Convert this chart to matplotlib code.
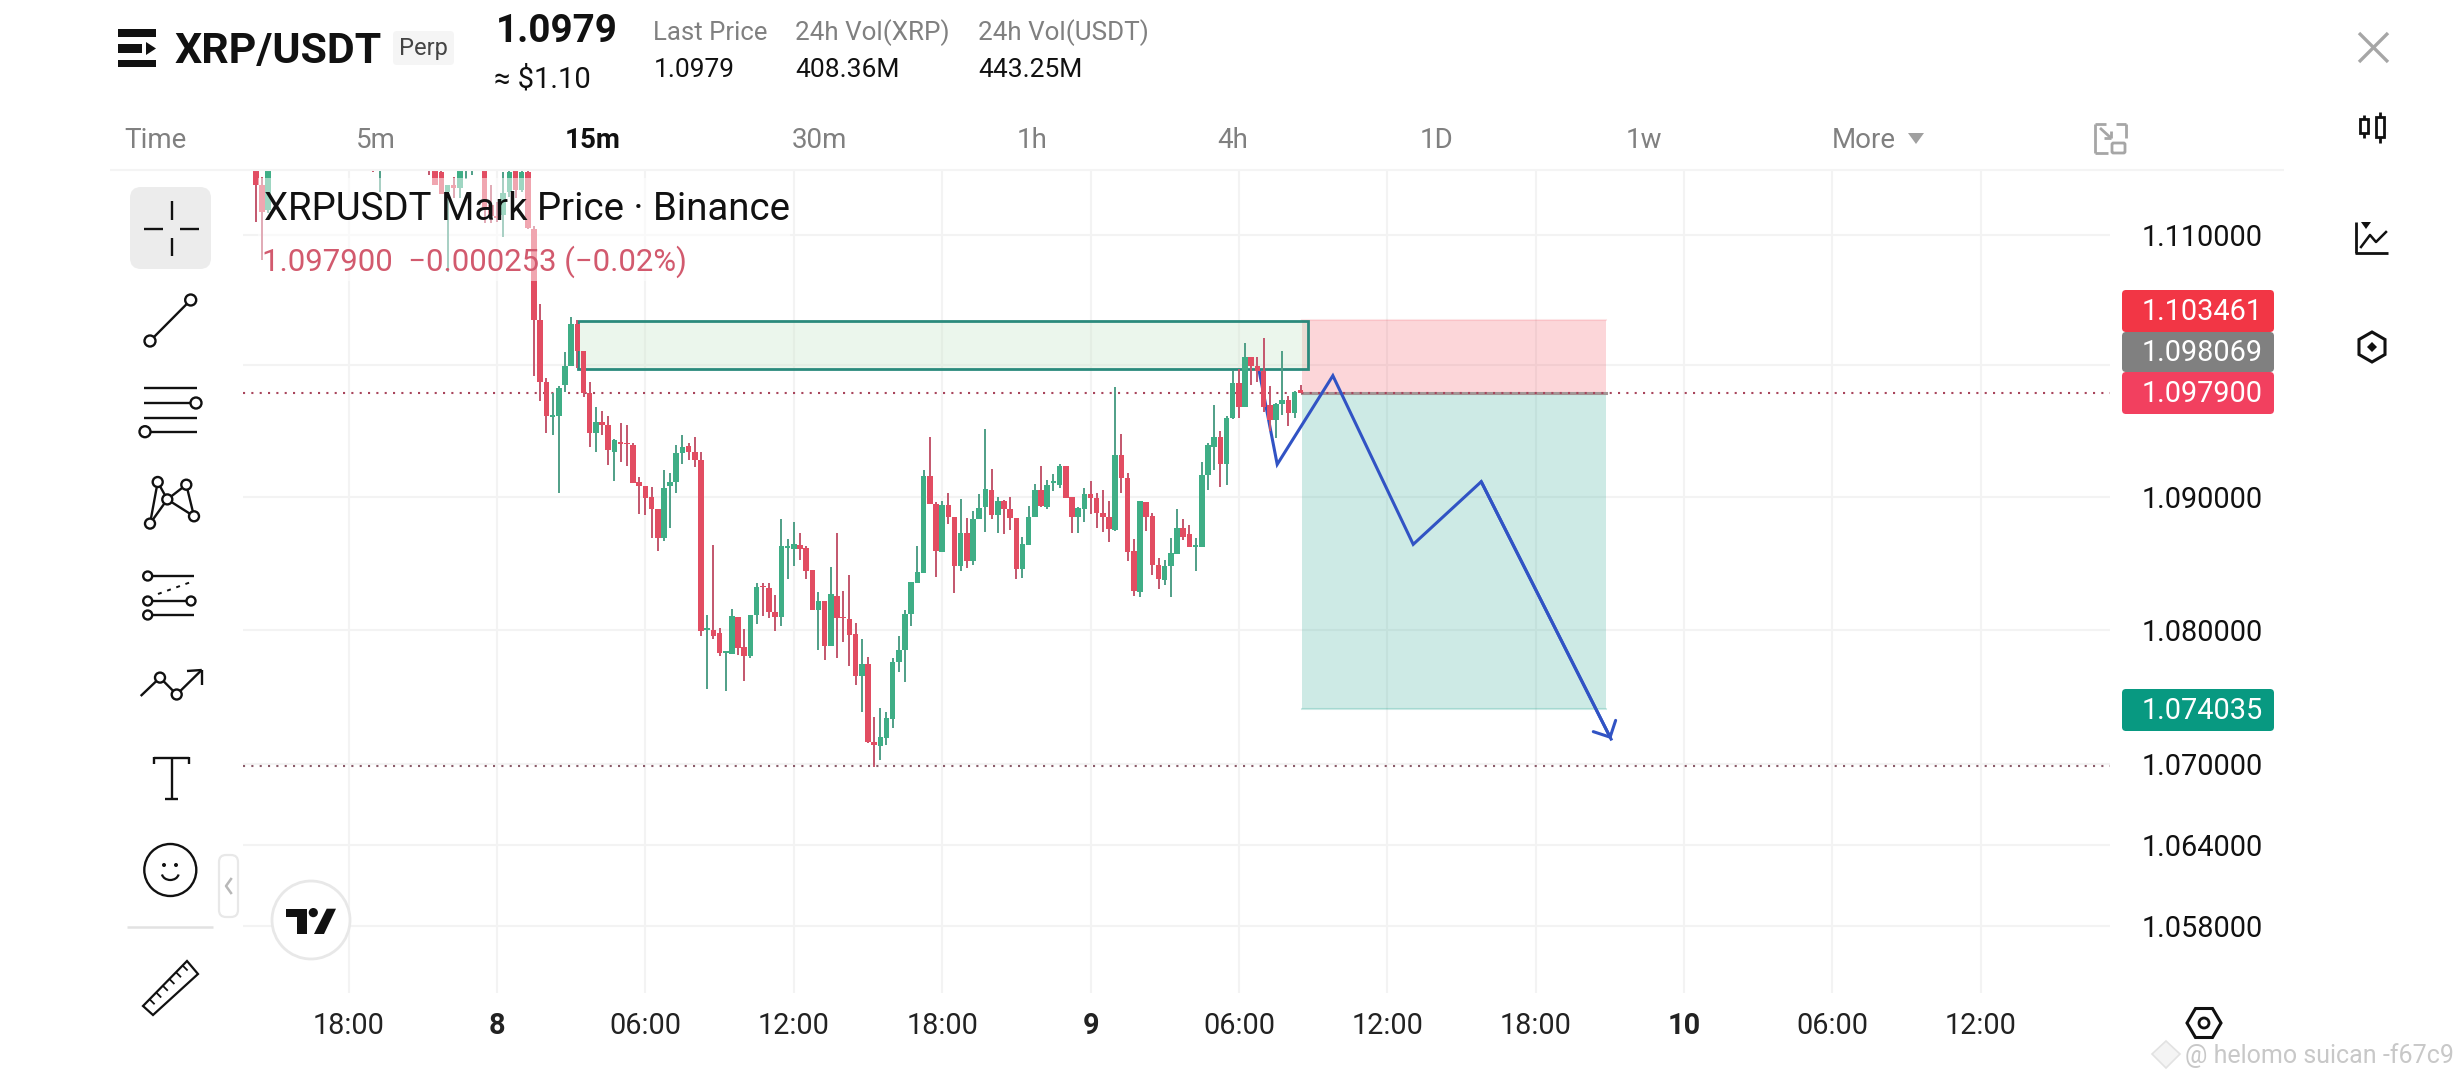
import matplotlib
matplotlib.use('Agg')
import numpy as np
from matplotlib import pyplot as plt
from matplotlib.patches import Rectangle, FancyBboxPatch, Circle, Polygon, Arc
from matplotlib.ticker import NullLocator

plt.rcParams['font.family'] = ['Roboto', 'DejaVu Sans']

# 15 minute bars, counted from 8th 00:00. Bars above the pane top are left out
bar_idx = [-39, -38, -37, -20, -19, -11, -10, -9, -8, -7, -6, -5, -4, -2, -1] + list(range(0, 131))

opens = [1.1165, 1.11385, 1.11192, 1.1185, 1.1165, 1.1185, 1.1178, 1.11488, 1.11334, 1.11385,
         1.11359, 1.1165, 1.1165, 1.1165, 1.11231,
         1.11149, 1.11154, 1.11334, 1.1165, 1.11346, 1.11488, 1.1105, 1.10344, 1.09869, 1.09606,
         1.09612, 1.09848, 1.09992, 1.10318, 1.10113, 1.09792, 1.09488, 1.09565, 1.09545, 1.09342,
         1.09414, 1.09406, 1.09393, 1.0911, 1.09085, 1.09, 1.08905, 1.08686, 1.09085, 1.0911,
         1.09334, 1.09386, 1.09342, 1.0928, 1.07998, 1.08, 1.07975, 1.07825, 1.078175, 1.08095,
         1.0787, 1.07805, 1.081125, 1.0833, 1.083125, 1.081325, 1.08095, 1.08612, 1.08605, 1.086375,
         1.086125, 1.08445, 1.0815, 1.082175, 1.0788, 1.08255, 1.08095, 1.0808, 1.079675, 1.07655,
         1.07745, 1.071625, 1.0713, 1.071875, 1.0733, 1.07755, 1.0785, 1.0812, 1.0835, 1.08425,
         1.091575, 1.08945, 1.08583, 1.089375, 1.0885, 1.0848, 1.08725, 1.085125, 1.0883, 1.0892,
         1.09055, 1.08865, 1.089675, 1.08905, 1.088425, 1.08455, 1.08638, 1.08845, 1.09055, 1.0892,
         1.09105, 1.090925, 1.092325, 1.09, 1.0885, 1.08905, 1.09025, 1.08995, 1.0888, 1.0885,
         1.0875, 1.0932, 1.09145, 1.085875, 1.0828, 1.089625, 1.08855, 1.084825, 1.08375, 1.08475,
         1.0857, 1.087625, 1.0872, 1.08622, 1.086175, 1.091675, 1.09375, 1.09455, 1.0925, 1.09595,
         1.098675, 1.0968, 1.100625, 1.099925, 1.09955, 1.09695, 1.095825, 1.09705, 1.097375, 1.096375,
         1.09815]
highs = [1.1175, 1.1145, 1.1172, 1.1195, 1.1195, 1.1195, 1.1185, 1.1155, 1.11385, 1.1145,
         1.1172, 1.1185, 1.1185, 1.1175, 1.11385,
         1.11256, 1.11488, 1.1152, 1.1175, 1.1175, 1.1155, 1.1107, 1.10473, 1.09907, 1.09792,
         1.09843, 1.101, 1.1037, 1.10344, 1.10113, 1.09869, 1.09684, 1.0965, 1.09617, 1.0944,
         1.0956, 1.09547, 1.09406, 1.09149, 1.09085, 1.09077, 1.08905, 1.09206, 1.0918, 1.09393,
         1.0947, 1.09406, 1.09457, 1.09338, 1.081125, 1.086375, 1.080125, 1.07838, 1.08155, 1.08095,
         1.08005, 1.081125, 1.0835, 1.0835, 1.0835, 1.082625, 1.0883, 1.0868, 1.088125, 1.08725,
         1.0863, 1.08445, 1.0828, 1.082175, 1.0847, 1.08725, 1.082875, 1.084125, 1.0805, 1.0793,
         1.07795, 1.0735, 1.074125, 1.073875, 1.077875, 1.07955, 1.0815, 1.08355, 1.0863, 1.09205,
         1.09455, 1.089625, 1.089675, 1.0903, 1.0885, 1.089875, 1.088375, 1.088925, 1.0902, 1.095125,
         1.092125, 1.09, 1.08975, 1.09, 1.088425, 1.08695, 1.0893, 1.09095, 1.0923, 1.09125,
         1.09175, 1.0925, 1.092325, 1.09, 1.0892, 1.090675, 1.091175, 1.090325, 1.09055, 1.089675,
         1.098375, 1.0948, 1.0918, 1.0868, 1.08968, 1.089625, 1.0888, 1.085375, 1.08525, 1.086875,
         1.08905, 1.0883, 1.087875, 1.086875, 1.092675, 1.09405, 1.09695, 1.095, 1.096125, 1.09955,
         1.09975, 1.101675, 1.100625, 1.100625, 1.102125, 1.09845, 1.097125, 1.101125, 1.097675, 1.09805,
         1.0985]
lows = [1.11102, 1.10807, 1.11167, 1.11483, 1.11334, 1.1146, 1.11385, 1.11313, 1.10717, 1.11287,
        1.11282, 1.11436, 1.11462, 1.11089, 1.11089,
        1.11102, 1.10987, 1.11295, 1.11282, 1.11334, 1.1105, 1.0992, 1.09727, 1.09488, 1.0947,
        1.09026, 1.09797, 1.09992, 1.09977, 1.09761, 1.09375, 1.09342, 1.0947, 1.09239, 1.09118,
        1.09265, 1.0923, 1.09103, 1.08872, 1.08866, 1.08686, 1.08589, 1.08666, 1.08764, 1.09026,
        1.09247, 1.09283, 1.09226, 1.0795, 1.07555, 1.0793, 1.07805, 1.075375, 1.078175, 1.078125,
        1.076125, 1.077875, 1.08045, 1.081, 1.080875, 1.079875, 1.08025, 1.0838, 1.08475, 1.08525,
        1.0838, 1.0815, 1.07845, 1.0777, 1.0788, 1.077875, 1.07905, 1.07725, 1.075875, 1.073875,
        1.0715, 1.06975, 1.07025, 1.071375, 1.072675, 1.0768, 1.07605, 1.08025, 1.0835, 1.08425,
        1.08945, 1.08395, 1.08583, 1.08795, 1.08275, 1.084375, 1.084625, 1.084875, 1.0883, 1.087375,
        1.0883, 1.0873, 1.0872, 1.0875, 1.0838, 1.083875, 1.08638, 1.08845, 1.0892, 1.08905,
        1.09045, 1.090675, 1.08995, 1.08725, 1.0873, 1.088125, 1.088675, 1.087625, 1.087325, 1.086625,
        1.08745, 1.0903, 1.085125, 1.0825, 1.08245, 1.08745, 1.084125, 1.08305, 1.083375, 1.08245,
        1.0857, 1.08675, 1.086175, 1.084375, 1.086175, 1.0905, 1.092, 1.09075, 1.090875, 1.095875,
        1.096, 1.0968, 1.0985, 1.09875, 1.09645, 1.095, 1.0945, 1.09625, 1.095375, 1.09595,
        1.0979]
closes = [1.11385, 1.11179, 1.1165, 1.1172, 1.1185, 1.1165, 1.11385, 1.11313, 1.11385, 1.11359,
          1.1165, 1.1178, 1.1178, 1.11192, 1.11149,
          1.11128, 1.11321, 1.11488, 1.11346, 1.11488, 1.11051, 1.10344, 1.09869, 1.09612, 1.09612,
          1.0983, 1.09992, 1.10318, 1.10113, 1.09792, 1.09488, 1.09565, 1.09545, 1.09355, 1.09432,
          1.09398, 1.094, 1.09103, 1.09085, 1.08995, 1.08905, 1.08686, 1.09067, 1.0911, 1.09334,
          1.09375, 1.09342, 1.09283, 1.07988, 1.08, 1.0795, 1.07825, 1.07838, 1.081, 1.078625,
          1.07805, 1.081125, 1.0832, 1.083175, 1.081325, 1.08095, 1.08625, 1.08625, 1.086425, 1.08605,
          1.084375, 1.0815, 1.082125, 1.07875, 1.0827, 1.080875, 1.08085, 1.079625, 1.07655, 1.07745,
          1.071625, 1.071375, 1.07195, 1.073375, 1.07755, 1.0785, 1.0812, 1.08355, 1.0843, 1.091575,
          1.08945, 1.085875, 1.089375, 1.0885, 1.0848, 1.08725, 1.085125, 1.0883, 1.089125, 1.090625,
          1.088625, 1.089675, 1.08905, 1.088375, 1.08455, 1.08645, 1.08845, 1.09055, 1.0893, 1.090875,
          1.09115, 1.092325, 1.08995, 1.0885, 1.089125, 1.09025, 1.08995, 1.08875, 1.0885, 1.08755,
          1.0932, 1.09145, 1.085825, 1.082875, 1.089675, 1.0885, 1.084825, 1.0838, 1.08475, 1.08575,
          1.087625, 1.087, 1.086175, 1.08628, 1.091675, 1.09395, 1.09455, 1.0925, 1.09595, 1.098675,
          1.0968, 1.100625, 1.099925, 1.09955, 1.0968, 1.095825, 1.097075, 1.097375, 1.096375, 1.098,
          1.0979]

# price axis
y_ticks = [1.11, 1.10, 1.09, 1.08, 1.07, 1.064, 1.058]
y_labels = ['1.110000', '', '1.090000', '1.080000', '1.070000', '1.064000', '1.058000']
y_top, y_bottom = 1.11502, 1.05309

# time axis, in bars
x_ticks = [-24, 0, 24, 48, 72, 96, 120, 144, 168, 192, 216, 240]
x_labels = ['18:00', '8', '06:00', '12:00', '18:00', '9', '06:00', '12:00', '18:00', '10', '06:00', '12:00']
day_labels = ['8', '9', '10']

last_price = 1.0979
low_level = 1.0698
stop_price = 1.103461
target_price = 1.074035
zone_low, zone_high = 1.0997, 1.1034
zone_start, zone_end = 13.05, 131.2
pos_start, pos_end = 130.2, 179.3
path_x = [123.3, 126.2, 135.2, 148.2, 159.2, 180.2]
path_y = [1.09951, 1.09246, 1.09921, 1.08641, 1.09115, 1.07182]

tag_texts = ['1.103461', '1.098069', '1.097900', '1.074035']
tag_colors = ['#f23645', '#808080', '#f2405f', '#089981']
tag_tops = [290, 332, 372, 689]
tag_bots = [332, 372, 414, 731]

tabs = ['5m', '15m', '30m', '1h', '4h', '1D', '1w']
tab_x = [376, 593, 819, 1032, 1233, 1437, 1644]

UP = '#3fae86'
DOWN = '#e24d62'
UP_WICK = '#4f9f87'
DOWN_WICK = '#c3566d'
BLUE = '#3153c4'
INK = '#111111'
GRAY = '#808080'

fig = plt.figure(figsize=(24.6, 10.8), dpi=100, facecolor='white')
ax = fig.add_axes([243 / 2460, (1080 - 993) / 1080, (2110 - 243) / 2460, (993 - 170) / 1080])
ax.set_yscale('log')
ax.set_xlim(-41.08, 260.9)
ax.set_ylim(y_bottom, y_top)
for s in ax.spines.values():
    s.set_visible(False)
ax.set_axisbelow(True)
ax.grid(True, color='#f3f3f3', lw=1.5)
ax.yaxis.tick_right()
ax.set_yticks(y_ticks)
ax.set_yticklabels(y_labels)
ax.yaxis.set_minor_locator(NullLocator())
ax.set_xticks(x_ticks)
ax.set_xticklabels(x_labels)
ax.tick_params(axis='y', length=0, pad=23, labelsize=20.8, labelcolor=INK)
ax.tick_params(axis='x', length=0, pad=14, labelsize=20.8, labelcolor='#222222')
for lab in ax.get_xticklabels():
    if lab.get_text() in day_labels:
        lab.set_fontweight('bold')

# long/short position boxes
ax.add_patch(Rectangle((pos_start, last_price), pos_end - pos_start, stop_price - last_price,
                       fc='#f23645', alpha=0.2, lw=0, zorder=2))
ax.add_patch(Rectangle((pos_start, target_price), pos_end - pos_start, last_price - target_price,
                       fc='#089981', alpha=0.2, lw=0, zorder=2))
ax.plot([pos_start, pos_end], [last_price, last_price], color='#a39595', lw=2.2, zorder=2)
ax.plot([pos_start, pos_end], [stop_price, stop_price], color='#f23645', alpha=0.12, lw=1.5, zorder=2)
ax.plot([pos_start, pos_end], [target_price, target_price], color='#089981', alpha=0.2, lw=1.5, zorder=2)

# dotted levels
ax.axhline(last_price, color='#a8455c', lw=1.5, ls=(0, (1, 3)), zorder=2.05)
ax.axhline(low_level, color='#8a5a68', lw=1.5, ls=(0, (1, 3)), zorder=1)

# supply zone
ax.add_patch(Rectangle((zone_start, zone_low), zone_end - zone_start, zone_high - zone_low,
                       fc='#c8e6c9', alpha=0.35, lw=0, zorder=2.1))
ax.add_patch(Rectangle((zone_start, zone_low), zone_end - zone_start, zone_high - zone_low,
                       fc='none', ec='#2a8a7c', lw=2, zorder=2.2))

# hand drawn path sits under the candles
ax.plot(path_x, path_y, color=BLUE, lw=2.2, zorder=2.9, solid_joinstyle='miter')
ax.annotate('', xy=(path_x[-1], path_y[-1]), xytext=(path_x[-2], path_y[-2]),
            arrowprops=dict(arrowstyle='->,head_length=0.5,head_width=0.5', color=BLUE, lw=2.2,
                            mutation_scale=18, shrinkA=0, shrinkB=0), zorder=2.9)

# candles
xs = np.array(bar_idx)
o = np.array(opens)
h = np.array(highs)
l = np.array(lows)
c = np.array(closes)
up = c >= o
ax.vlines(xs[up], l[up], h[up], color=UP_WICK, lw=1.4, zorder=3)
ax.vlines(xs[~up], l[~up], h[~up], color=DOWN_WICK, lw=1.4, zorder=3)
body_h = np.maximum(np.abs(c - o), 0.00012)
ax.bar(xs[up], body_h[up], bottom=np.minimum(o, c)[up], width=0.9, color=UP, zorder=3.1)
ax.bar(xs[~up], body_h[~up], bottom=np.minimum(o, c)[~up], width=0.9, color=DOWN, zorder=3.1)

# everything around the pane is drawn in pixel coordinates
ui = fig.add_axes([0, 0, 1, 1], zorder=5)
ui.set_xlim(0, 2460)
ui.set_ylim(1080, 0)
ui.axis('off')


def seg(xa, ya, xb, yb, color=INK, lw=1.7):
    ui.plot([xa, xb], [ya, yb], color=color, lw=lw, solid_capstyle='butt', zorder=3)


def ring(x, y, r=5.5, lw=1.7):
    ui.add_patch(Circle((x, y), r, fc='white', ec=INK, lw=lw, zorder=4))


def label(x, y, s, size, color=INK, weight='normal', ha='left'):
    ui.text(x, y, s, fontsize=size, color=color, fontweight=weight, ha=ha, va='center', zorder=6)


def hexagon(cx, cy, rx, ry, flat=False):
    if flat:
        pts = [(cx - rx, cy), (cx - rx / 2, cy - ry), (cx + rx / 2, cy - ry),
               (cx + rx, cy), (cx + rx / 2, cy + ry), (cx - rx / 2, cy + ry)]
    else:
        pts = [(cx, cy - ry), (cx + rx, cy - ry / 2), (cx + rx, cy + ry / 2),
               (cx, cy + ry), (cx - rx, cy + ry / 2), (cx - rx, cy - ry / 2)]
    ui.add_patch(Polygon(pts, closed=True, fc='white', ec=INK, lw=2.2, zorder=4))


# legend backing dims the candles under it
ui.add_patch(Rectangle((258, 178), 532, 60, fc='white', alpha=0.5, lw=0))
ui.add_patch(Rectangle((258, 238), 428, 43, fc='white', alpha=0.5, lw=0))
label(264, 210, 'XRPUSDT Mark Price · Binance', 27.6, INK)
label(262, 262, '1.097900  −0.000253 (−0.02%)', 22.4, '#d25a6e')

# rules
seg(110, 170, 2284, 170, '#f4f4f4', 1.5)

# header
ui.add_patch(Rectangle((117.5, 29), 38.5, 8, fc=INK, lw=0))
ui.add_patch(Rectangle((117.5, 44), 24, 9, fc=INK, lw=0))
ui.add_patch(Polygon([(146, 42), (156, 48.5), (146, 55)], closed=True, fc=INK, lw=0))
ui.add_patch(Rectangle((117.5, 60), 38.5, 7, fc=INK, lw=0))
label(175, 51, 'XRP/USDT', 30.9, INK, 'bold')
ui.add_patch(FancyBboxPatch((393, 31), 61, 34, boxstyle='round,pad=0,rounding_size=4', fc='#f5f5f5', lw=0))
label(423.5, 49, 'Perp', 17, '#444444', ha='center')
label(496, 31, '1.0979', 27.8, INK, 'bold')
label(494, 80, '≈ $1.10', 21, INK)
label(653, 33, 'Last Price', 18.5, GRAY)
label(654, 70, '1.0979', 19, INK)
label(795, 33, '24h Vol(XRP)', 18.7, GRAY)
label(795, 70, '408.36M', 19, INK)
label(978, 33, '24h Vol(USDT)', 18.7, GRAY)
label(978, 70, '443.25M', 19, INK)

# timeframe row
label(124, 141, 'Time', 20, GRAY)
for tx, t in zip(tab_x, tabs):
    if t == '15m':
        label(tx, 141, t, 20, INK, 'bold', 'center')
    else:
        label(tx, 141, t, 20, GRAY, ha='center')
label(1864, 141, 'More', 20, GRAY, ha='center')
ui.add_patch(Polygon([(1908, 133), (1924, 133), (1916, 144)], closed=True, fc='#a0a0a0', lw=0))

# expand icon
for a in [(2106, 124, 2095, 124), (2095, 124, 2095, 153), (2095, 153, 2108, 153),
          (2116, 124, 2126, 124), (2126, 124, 2126, 138), (2100, 128, 2111, 138),
          (2111, 131, 2111, 138), (2104, 138, 2111, 138)]:
    seg(*a, color='#a6a6a6', lw=2.0)
ui.add_patch(FancyBboxPatch((2112, 143), 13, 10, boxstyle='round,pad=0,rounding_size=1.5',
                            fc='white', ec='#a6a6a6', lw=2.0))

# close
seg(2359, 33, 2388, 62, '#a6a6a6', 2.4)
seg(2388, 33, 2359, 62, '#a6a6a6', 2.4)

# right hand icons
seg(2364, 115, 2364, 138, INK, 2.0)
ui.add_patch(Rectangle((2360, 119), 8, 14, fc='white', ec=INK, lw=2.0, zorder=4))
seg(2380, 112, 2380, 143, INK, 2.0)
ui.add_patch(Rectangle((2376, 117), 8, 20, fc='white', ec=INK, lw=2.0, zorder=4))
seg(2356, 222, 2356, 253, INK, 2.0)
seg(2355, 253, 2388, 253, INK, 2.0)
ui.plot([2361, 2370, 2376, 2386], [247, 235, 242, 232], color=INK, lw=1.8)
ui.add_patch(Polygon([(2361, 222), (2371, 222), (2366, 229)], closed=True, fc=INK, lw=0))
hexagon(2372, 347, 13, 15)
ui.add_patch(Polygon([(2372, 342), (2377, 347), (2372, 352), (2367, 347)], closed=True, fc=INK, lw=0, zorder=5))
hexagon(2204, 1023, 17, 14.5, flat=True)
ring(2204, 1023, 5, 2.0)

# price tags
for txt, col, top, bot in zip(tag_texts, tag_colors, tag_tops, tag_bots):
    ui.add_patch(FancyBboxPatch((2122, top), 152, bot - top, boxstyle='round,pad=0,rounding_size=4', fc=col, lw=0))
    label(2142, (top + bot) / 2 + 1, txt, 20.8, 'white')

# drawing tools
ui.add_patch(FancyBboxPatch((130, 187), 81, 82, boxstyle='round,pad=0,rounding_size=11', fc='#ececec', lw=0))
seg(144, 229, 163, 229)
seg(180, 229, 199, 229)
seg(171.7, 201, 171.7, 220)
seg(171.7, 238, 171.7, 256)

seg(150, 341, 190.7, 300)
ring(150, 341)
ring(190.7, 300)

for yy in [388, 403, 417.6, 431.7]:
    seg(144, yy, 197, yy)
ring(196, 403)
ring(145, 431.7)

pat = [(150, 523.6), (157.7, 482), (167.3, 499.4), (186.3, 484.7), (194, 516.3)]
for a, b in [(0, 1), (1, 2), (0, 2), (2, 3), (2, 4), (3, 4)]:
    seg(pat[a][0], pat[a][1], pat[b][0], pat[b][1])
for p in pat:
    ring(p[0], p[1], 5)

seg(148, 576, 194, 576)
seg(148, 601, 186, 601)
seg(153, 615, 194, 615)
ui.plot([158, 191], [594, 582], color=INK, lw=1.4, ls=(0, (2, 3)))
ring(147.7, 576, 4.5)
ring(147.7, 601, 4.5)
ring(191, 601, 4.5)
ring(147.7, 615, 4.5)

seg(140.7, 696, 160, 677.6)
seg(160, 677.6, 176.7, 694.5)
seg(176.7, 694.5, 201.7, 670)
seg(187, 671, 201.7, 670)
seg(201.7, 670, 201.7, 685)
ring(160, 677.6, 5)
ring(176.7, 694.5, 5)

seg(154, 758, 189, 758)
seg(154, 757, 154, 764)
seg(189, 757, 189, 764)
seg(171.7, 758, 171.7, 799)
seg(165, 799, 178, 799)

ui.add_patch(Circle((170.3, 870), 26, fc='white', ec=INK, lw=1.7))
ui.add_patch(Circle((164, 865), 2, fc=INK, lw=0, zorder=4))
ui.add_patch(Circle((176, 865), 2, fc=INK, lw=0, zorder=4))
ui.add_patch(Arc((170.3, 873), 17, 14, theta1=10, theta2=170, color=INK, lw=1.6, zorder=4))

seg(127, 927, 213, 927, '#e2e2e2', 1.8)

ui.add_patch(Polygon([(143, 1006), (187, 961), (198, 974), (153, 1015)], closed=True, fc='white', ec=INK, lw=1.6))
for t in np.array([0.15, 0.3, 0.45, 0.6, 0.75, 0.9]):
    bx, by = 143 + 44 * t, 1006 - 45 * t
    seg(bx, by, bx + 5, by + 5, INK, 1.3)

# collapse handle
ui.add_patch(FancyBboxPatch((219, 855), 19, 62, boxstyle='round,pad=0,rounding_size=7', fc='white', ec='#e8e8e8', lw=1.6))
ui.plot([231, 226, 231], [879, 886, 893], color='#b8b8b8', lw=1.8)

# logo badge
ui.add_patch(Circle((311, 920), 39, fc='white', ec='#e8e8e8', lw=2))
ui.add_patch(Polygon([(285.7, 908.7), (306.7, 908.7), (306.7, 934), (296.5, 934), (296.5, 917), (285.7, 917)],
                     closed=True, fc=INK, lw=0, zorder=4))
ui.add_patch(Circle((313.3, 912.6), 4.6, fc=INK, lw=0, zorder=4))
ui.add_patch(Polygon([(326.7, 908.7), (336, 908.7), (324, 934), (314, 934)], closed=True, fc=INK, lw=0, zorder=4))

# watermark
ui.add_patch(Polygon([(2166, 1041), (2180, 1054), (2166, 1068), (2152, 1054)], closed=True,
                     fc='#f4f4f4', ec='#e2e2e2', lw=1.2))
label(2185, 1056, '@ helomo suican -f67c9', 18, '#c8c8c8')

fig.savefig('out.png', dpi=100)
